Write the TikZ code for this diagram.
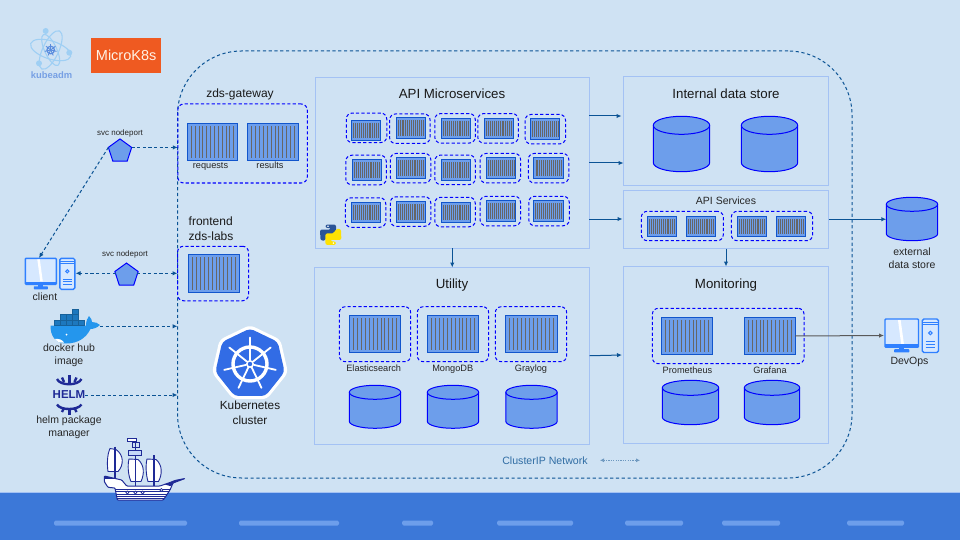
\documentclass[tikz,border=0pt]{standalone}
\usepackage{fontspec}
\setmainfont{Liberation Sans}
\usetikzlibrary{arrows.meta,calc,shapes.geometric}

\definecolor{skybg}{HTML}{CFE2F3}
\definecolor{seablue}{HTML}{3C78D8}
\definecolor{seadash}{HTML}{6D9EEB}
\definecolor{edgeblue}{HTML}{0B5394}
\definecolor{panelblue}{HTML}{A4C2F4}
\definecolor{cratefill}{HTML}{6D9EEB}
\definecolor{crateedge}{HTML}{1155CC}
\definecolor{pcblue}{HTML}{2F80FF}
\definecolor{pcglass}{HTML}{D6E8FF}
\definecolor{navyicon}{HTML}{1F2A96}
\definecolor{whaleblue}{HTML}{2496ED}
\definecolor{kubeblue}{HTML}{326CE5}
\definecolor{mk8sorange}{HTML}{EF5A21}
\definecolor{atomcyan}{HTML}{9FCFF3}

\tikzset{
  wh/.style 2 args={minimum width=#1pt,minimum height=#2pt},
  panelbox/.style={draw=panelblue,line width=1pt,inner sep=0pt,outer sep=0pt},
  groupbox/.style={draw=blue,line width=1pt,dash pattern=on 3.2pt off 2.2pt,rounded corners=6pt,inner sep=0pt,outer sep=0pt},
  crate/.style={draw=crateedge,fill=cratefill,line width=1pt,inner sep=0pt,outer sep=0pt,
    path picture={
      \foreach \i [evaluate=\i as \t using \i/(#1+1)] in {1,...,#1}
        \draw[black!60,line width=.8pt]
          ($(path picture bounding box.north west)!\t!(path picture bounding box.north east)+(0,-2.5pt)$) --
          ($(path picture bounding box.south west)!\t!(path picture bounding box.south east)+(0,2.5pt)$);
    }},
  dbline/.style={draw=blue,fill=cratefill,line width=1pt},
  dbspot/.style={inner sep=0pt,outer sep=0pt},
  portpoly/.style={regular polygon,regular polygon sides=5,minimum size=24.5pt,draw=blue,fill=cratefill,line width=1pt,inner sep=0pt,outer sep=0pt},
  flow/.style={edgeblue,line width=1pt,-{Latex[length=5pt,width=4.5pt]}},
  dashflow/.style={flow,dash pattern=on 3.2pt off 2.4pt},
  txtXS/.style={text=black!85,font=\fontsize{8}{10}\selectfont,inner sep=0pt},
  txtS/.style={text=black!85,font=\fontsize{9.2}{11}\selectfont,inner sep=0pt,text height=7pt,text depth=2pt},
  txtM/.style={text=black!85,font=\fontsize{10.5}{13}\selectfont,inner sep=0pt,align=center},
  txtL/.style={text=black!90,font=\fontsize{12}{14.5}\selectfont,inner sep=0pt,align=center},
  txtXL/.style={text=black!90,font=\fontsize{13.3}{15}\selectfont,inner sep=0pt,text height=10pt,text depth=3pt},
  computer/.pic={
    \draw[pcblue,fill=pcglass,line width=1.4pt,rounded corners=.8pt] (0,0) rectangle (31,26);
    \fill[pcblue] (0,23.5) rectangle (31,26);
    \fill[white] (12,1) -- (14.5,1) -- (17.5,23) -- (15,23) -- cycle;
    \fill[pcblue] (13,26) rectangle (18,28.5);
    \fill[pcblue,rounded corners=.6pt] (8.5,28) rectangle (22.5,31);
    \draw[pcblue,fill=pcglass,line width=1.4pt,rounded corners=1.5pt] (34.5,0) rectangle (49.5,31);
    \draw[pcblue,line width=.9pt] (34.5,3) -- (49.5,3) (34.5,5.5) -- (49.5,5.5);
    \draw[pcblue,line width=1pt] (42,13) circle (1.6pt);
    \draw[pcblue,line width=.8pt] (37.5,21) -- (46.5,21) (37.5,23.5) -- (46.5,23.5) (37.5,26) -- (46.5,26);
  }
}

% name, x, y, width, height, ellipse depth
\newcommand{\dbcan}[6]{
  \node[dbspot,wh={#4}{#5}] (#1) at (#2,#3) {};
  \draw[dbline] ([yshift=-#6pt]#1.north west) -- ([yshift=#6pt]#1.south west)
    arc[start angle=180,end angle=360,x radius=#4/2*1pt,y radius=#6pt]
    -- ([yshift=-#6pt]#1.north east)
    arc[start angle=0,end angle=180,x radius=#4/2*1pt,y radius=#6pt] -- cycle;
  \draw[dbline,fill=none] ([yshift=-#6pt]#1.north west)
    arc[start angle=180,end angle=360,x radius=#4/2*1pt,y radius=#6pt];
}

\begin{document}
\begin{tikzpicture}[x=1pt,y=-1pt]
  \useasboundingbox (0,0) rectangle (960,540);
  \fill[skybg] (0,0) rectangle (960,540);
  \fill[seablue] (0,493) rectangle (960,540);
  \draw[panelblue,line width=.8pt] (0,492.6) -- (960,492.6);% sea line
  \foreach \xa/\xb in {54/187,239/339,402/433,497/573,625/683,722/780,847/904}
    \fill[seadash,rounded corners=1.5pt] (\xa,520.5) rectangle (\xb,525.5);

  % cluster outline
  \node[draw=edgeblue,line width=1pt,dash pattern=on 3.2pt off 2.6pt,rounded corners=64pt,inner sep=0pt,outer sep=0pt,wh={674.5}{427}] (cluster) at (514.75,264.5) {};

  % logos
  \coordinate (atom) at (50.7,50);
  \draw[atomcyan,line width=1.1pt,rotate around={-18:(atom)}] (atom) ellipse (21pt and 9pt);
  \draw[atomcyan,line width=1.1pt,rotate around={65:(atom)}] (atom) ellipse (21pt and 8pt);
  \draw[atomcyan,line width=1.1pt,rotate around={-65:(atom)}] (atom) ellipse (17pt and 6pt);
  \fill[atomcyan] (45.7,31) circle (3pt) (69.3,52.7) circle (3pt) (39,63.3) circle (3pt);
  \draw[seablue!85,line width=1.2pt] (atom) circle (3.8pt);
  \foreach \a in {90,141.4,...,400}
    \draw[seablue!85,line width=.9pt] (atom) -- ++(\a:6pt);
  \node[text=seablue!70,font=\bfseries\fontsize{9.4}{11}\selectfont,inner sep=0pt] (kubeadm) at (51.5,75) {kubeadm};
  \node[fill=mk8sorange,text=white!90!orange,inner sep=0pt,outer sep=0pt,wh={69.7}{34.7},font=\fontsize{14.5}{16}\selectfont] (microk8s) at (126.15,55.35) {MicroK8s};

  % panels
  \node[panelbox,wh={273.5}{170.5}] (api) at (452.25,162.75) {};
  \node[panelbox,wh={275.5}{176.5}] (utility) at (451.75,355.75) {};
  \node[panelbox,wh={205}{109}] (store) at (726,131) {};
  \node[panelbox,wh={205}{58.5}] (apisvc) at (726,219.25) {};
  \node[panelbox,wh={205}{177}] (monitor) at (726,355) {};
  \node[txtXL] (apititle) at (452,95.3) {API Microservices};
  \node[txtXL] (utiltitle) at (452,285.4) {Utility};
  \node[txtXL] (storetitle) at (726,95.2) {Internal data store};
  \node[txtM] (apisvctitle) at (726,200.5) {API Services};
  \node[txtXL] (montitle) at (726,285.2) {Monitoring};

  % gateway and frontend
  \node[txtL,text height=8.5pt,text depth=3pt] (gwtitle) at (240,94.4) {zds-gateway};
  \node[groupbox,wh={129.5}{79}] (gateway) at (242.5,143.5) {};
  \node[crate=12,wh={50}{37}] (requests) at (212.5,142) {};
  \node[crate=12,wh={51}{37}] (results) at (273,142) {};
  \node[txtS] (reqlabel) at (210.5,166.4) {requests};
  \node[txtS] (reslabel) at (270,166.4) {results};
  \node[txtL,align=left,anchor=west] (fetitle) at (188.5,228.5) {frontend\\zds-labs};
  \node[groupbox,wh={71}{54.5}] (frontend) at (213,273.5) {};
  \node[crate=12,wh={51}{38}] (zdslabs) at (214,273.5) {};

  % microservices
  \foreach \bx/\by/\cx/\cy [count=\n] in {
      366.5/127.8/366/130.5, 409.8/128.7/410.7/128.2, 455/128.3/456/128.5, 498/128.3/499/128.5, 545.3/129.2/545.3/129.2,
      366/170/367/169.8, 410.5/168.2/411/168.2, 455/169.8/456/169.8, 500.3/168.2/501.3/168.2, 548.5/168.2/548.6/168.2,
      365.5/212.5/366/212.5, 410.5/211.5/411/212, 455/212/456/212.5, 500.3/211/501.3/211, 549/211/548.5/211}{
    \node[groupbox,wh={40.5}{29.5}] (msgroup\n) at (\bx,\by) {};
    \node[crate=14,wh={29.3}{20.5}] (mscrate\n) at (\cx,\cy) {};
  }

  % python logo
  \fill[seablue!70!black,rounded corners=2pt] (325.5,224.5) -- (336,224.5) -- (336,236) -- (327,236) -- (326,240.5) -- (320.5,240.5) -- (320,229.5) -- (331,229.5) -- (331,228) -- (325.5,228) -- cycle;
  \fill[yellow!85!orange,rounded corners=2pt] (335.9,244.9) -- (325.4,244.9) -- (325.4,233.4) -- (334.4,233.4) -- (335.4,228.9) -- (340.9,228.9) -- (341.4,239.9) -- (330.4,239.9) -- (330.4,241.4) -- (335.9,241.4) -- cycle;
  \fill[white] (328,226.3) circle (.9pt) (333.4,243.1) circle (.9pt);

  % utility
  \foreach \gx/\cx/\nm/\lx in {375/375/Elasticsearch/373.7,453/453/MongoDB/452.7,531/531.5/Graylog/531}{
    \node[groupbox,wh={71.4}{55}] (utilgroup\nm) at (\gx,334.2) {};
    \node[crate=12,wh={51.2}{37.4}] (utilcrate\nm) at (\cx,334) {};
    \node[txtS] (utillabel\nm) at (\lx,369.4) {\nm};
    \dbcan{utildb\nm}{\cx}{406.8}{51.4}{43}{7}
  }

  % data stores
  \dbcan{storedba}{681.5}{144}{56.4}{55.4}{9}
  \dbcan{storedbb}{769.5}{144}{56.4}{55.4}{9}
  \dbcan{extdb}{912}{219}{51.4}{43.4}{7}
  \node[txtM] (extlabel) at (912,258) {external\\data store};

  % api services
  \node[groupbox,wh={82}{29.4}] (svcgroupa) at (682.3,226) {};
  \node[groupbox,wh={81.4}{29.4}] (svcgroupb) at (772,226) {};
  \node[crate=14,wh={29.4}{20.4}] (svccratea) at (662,226.5) {};
  \node[crate=14,wh={29.4}{20.4}] (svccrateb) at (701,226.5) {};
  \node[crate=14,wh={29.4}{20.4}] (svccratec) at (752,226.5) {};
  \node[crate=14,wh={29.4}{20.4}] (svccrated) at (791,226.5) {};

  % monitoring
  \node[groupbox,wh={151.7}{55.4}] (mongroup) at (728.2,336) {};
  \node[crate=12,wh={51.4}{37.4}] (prometheus) at (687,336) {};
  \node[crate=12,wh={50.7}{37.4}] (grafana) at (769.7,336) {};
  \node[txtS] (promlabel) at (687.5,371) {Prometheus};
  \node[txtS] (graflabel) at (770,371) {Grafana};
  \dbcan{mondba}{690.5}{402.5}{56.4}{44.4}{7.5}
  \dbcan{mondbb}{772}{402.5}{55.4}{44.4}{7.5}

  % kubernetes logo
  \node[regular polygon,regular polygon sides=7,minimum size=78pt,fill=white,rounded corners=5pt,inner sep=0pt] (k8sback) at (250,364) {};
  \node[regular polygon,regular polygon sides=7,minimum size=71pt,fill=kubeblue,rounded corners=4pt,inner sep=0pt] (k8s) at (250,364) {};
  \draw[white,line width=3.4pt] (k8s.center) circle (17pt);
  \foreach \a in {90,141.43,...,400}
    \draw[white,line width=1.8pt,line cap=round] (k8s.center) ++(\a:4pt) -- ++(\a:22.5pt);
  \fill[white] (k8s.center) circle (4pt);
  \fill[kubeblue] (k8s.center) circle (2.2pt);
  \node[txtL,font=\fontsize{11.8}{14.7}\selectfont] (k8slabel) at (250,413) {Kubernetes\\cluster};

  % left side
  \node[portpoly] (svca) at (120,151.2) {};
  \node[txtXS] (svcalabel) at (120,133.5) {svc nodeport};
  \node[portpoly] (svcb) at (126.5,275.3) {};
  \node[txtXS] (svcblabel) at (125,254.5) {svc nodeport};

  \pic at (25.3,258.3) {computer};
  \coordinate (clienttop) at (39,258);
  \coordinate (clientside) at (75.5,273.3);
  \node[txtM] (clientlabel) at (45,297) {client};

  % docker whale
  \fill[whaleblue] (50.7,325.5) -- (86,325.5) .. controls (86,321) and (87.5,318) .. (89,316) .. controls (91,318) and (92,320) .. (92,322) .. controls (95,322) and (98,323) .. (100,325) .. controls (97,328) and (93,329) .. (90.5,329) .. controls (86,338) and (78,343.5) .. (66,343.5) .. controls (55,343.5) and (50,335) .. (50.7,325.5) -- cycle;
  \foreach \x in {54.5,60.5,66.5,72.5,78.5}
    \draw[whaleblue!65!black,fill=whaleblue!80!black,line width=.4pt] (\x,320) rectangle ++(5.5,5.5);
  \foreach \x in {60.5,66.5,72.5}
    \draw[whaleblue!65!black,fill=whaleblue!80!black,line width=.4pt] (\x,314.5) rectangle ++(5.5,5.5);
  \draw[whaleblue!65!black,fill=whaleblue!80!black,line width=.4pt] (72.5,309) rectangle ++(5.5,5.5);
  \fill[white] (66.5,334.5) circle (1pt);
  \fill[white] (55,339) .. controls (59,338.5) and (62,339.5) .. (64,342.5) .. controls (60,343) and (57,342) .. (55,339) -- cycle;
  \coordinate (dockerside) at (100,326.3);
  \node[txtM] (dockerlabel) at (69,355.5) {docker hub\\image};

  % helm
  \node[text=navyicon,font=\bfseries\fontsize{11.5}{13}\selectfont,inner sep=0pt,outer sep=0pt] (helm) at (69,395) {HELM};
  \draw[navyicon,line width=2.4pt] (57,379) .. controls (60,386) and (78,386) .. (81.5,379);
  \draw[navyicon,line width=2.4pt] (69.3,375) -- (69.3,383);
  \draw[navyicon,line width=2.4pt] (62,377.5) -- (64,382) (76.5,377.5) -- (74.5,382);
  \draw[navyicon,line width=2.4pt] (57,404.5) .. controls (60,410.5) and (78,410.5) .. (81.5,404.5);
  \draw[navyicon,line width=2.4pt] (69.3,408) -- (69.3,415);
  \draw[navyicon,line width=2.4pt] (62,412) -- (64,408) (76.5,412) -- (74.5,408);
  \node[txtM] (helmlabel) at (69,427.5) {helm package\\manager};

  % ship
  \def\shiphull{(115,488) -- (117.3,500) -- (163.3,500) -- (170,490) -- (173,483) -- (185,478.5) -- (175,480.5) -- (170,482.5) -- (160,486) -- (126.7,486) -- (121.7,480) -- (104.3,476) -- (104.3,481.7) -- (108,487.3) -- cycle}
  \draw[navyicon,line width=1.2pt] (115,446.7) -- (115,481);
  \draw[navyicon,line width=1.2pt] (135.7,438.5) -- (135.7,487);
  \draw[navyicon,line width=1.2pt] (154,455) -- (154,486);
  \draw[navyicon,fill=white,line width=.9pt] (110,448.5) .. controls (107,455) and (107,465) .. (108,471.5) -- (118,471.5) .. controls (124,465) and (124,455) .. (116,449.5) -- cycle;
  \draw[navyicon,fill=white,line width=.9pt] (129,459) .. controls (127.5,465) and (128,475) .. (131,481.5) -- (141,481.5) .. controls (144.5,474) and (144.5,465) .. (138,459.5) -- cycle;
  \draw[navyicon,fill=white,line width=.9pt] (147,459) .. controls (145.5,465) and (146,475) .. (148,481.5) -- (158.5,481.5) .. controls (162.5,474) and (162.5,465) .. (156,459.5) -- cycle;
  \draw[navyicon,line width=1.2pt] (115,448) -- (115,472) (135.7,459) -- (135.7,482) (154,459) -- (154,482);
  \draw[navyicon,fill=cratefill!40,line width=.9pt] (128.3,450) rectangle (141.7,455.7);
  \draw[navyicon,line width=.9pt] (132.7,442.7) rectangle (139.3,447.7);
  \draw[navyicon,fill=white,line width=.9pt] (127.5,438.5) rectangle (136,441.5);
  \draw[navyicon,fill=white,line width=1pt,rounded corners=.8pt] \shiphull;
  \begin{scope}
    \clip \shiphull;
    \fill[navyicon] (104,476) rectangle (126,479);
    \foreach \yy in {489,491,494,496,498}
      \draw[navyicon,line width=.7pt] (105,\yy) -- (172,\yy);
    \fill[navyicon] (160,483) -- (185,478) -- (185,482) -- (170,486) -- cycle;
  \end{scope}
  \draw[navyicon,fill=white,line width=.7pt] (127.3,492.5) circle (1.5pt) (135.3,492.5) circle (1.5pt) (142.7,492.5) circle (1.5pt) (161.3,490) circle (1.5pt);

  % devops
  \pic[scale=1.08] at (885,319) {computer};
  \coordinate (devopsside) at (884,335.5);
  \node[txtM] (devopslabel) at (909.5,362) {DevOps};

  % connectors
  \draw[dashflow] (svca.corner 5) -- (gateway.west |- svca.corner 5);% svc to gateway
  \draw[dashflow] (svca.corner 2) -- (clienttop);% svc to client
  \draw[dashflow] ([yshift=2pt]svcb.east) -- ([yshift=2pt]svcb.east -| frontend.west);% svc to frontend
  \draw[dashflow] ([yshift=2pt]svcb.west) -- (clientside);% svc to client
  \draw[dashflow] (dockerside) -- (dockerside -| cluster.west);% docker to cluster
  \draw[dashflow] (helm.east) -- (helm.east -| cluster.west);% helm to cluster

  \draw[flow] ([yshift=46.75pt]api.east) -- ([yshift=46.75pt,xshift=-2pt]api.east -| store.west);% api to store
  \draw[flow] ([yshift=-.25pt]api.east) -- ([yshift=-.25pt]api.east -| store.west);
  \draw[flow] ([yshift=-56.25pt]api.east) -- ([yshift=-56.25pt,xshift=-1pt]api.east -| store.west);% api to api services
  \draw[flow] (api.south) -- (utility.north -| api.south);% api to utility
  \draw[flow] (utility.east) -- ([xshift=-1.5pt]monitor.west);% utility to monitoring
  \draw[flow] (apisvc.south) -- (monitor.north);% api services to monitoring
  \draw[flow] (apisvc.east) -- (apisvc.east -| extdb.west);% api services to external
  \draw[black!65,line width=1pt,-{Latex[length=5pt,width=4.5pt]}] (grafana.east) -- (devopsside);% grafana to devops

  % network legend
  \node[text=edgeblue!85,font=\fontsize{10.6}{12}\selectfont,inner sep=0pt] (netlabel) at (545,460.3) {ClusterIP Network};
  \coordinate (netleft) at (600,460.3);
  \coordinate (netright) at (640,460.3);
  \draw[{Latex[length=4pt,width=4pt]}-{Latex[length=4pt,width=4pt]},edgeblue!60,line width=.7pt,dash pattern=on 1.2pt off 1.2pt] (netleft) -- (netright);
\end{tikzpicture}
\end{document}
